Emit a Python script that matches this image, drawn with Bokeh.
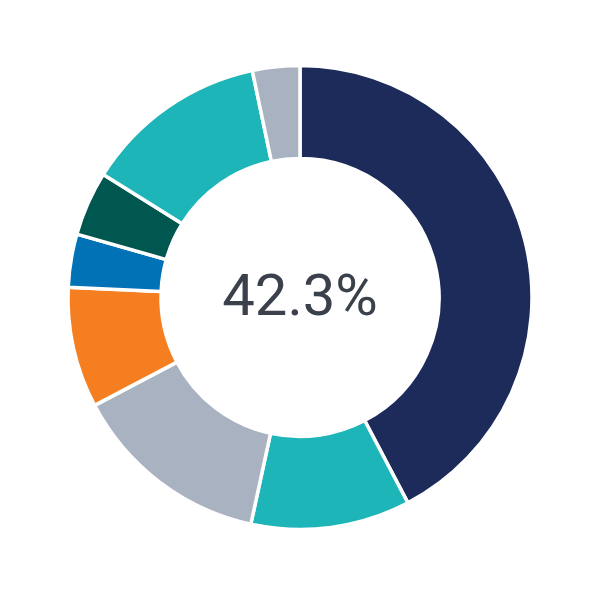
import math
from bokeh.plotting import figure
from bokeh.models import ColumnDataSource, Range1d
from bokeh.core.properties import value
from bokeh.embed import file_html
from bokeh.resources import INLINE

categories = ["A", "B", "C", "D", "E", "F", "G", "H"]
shares = [42.3, 11.1, 13.9, 8.4, 3.7, 4.5, 12.8, 3.3]
colors = ["#1c2b5a", "#1db5b8", "#a8b2c1", "#f47e20", "#0072b5", "#00574f", "#1db5b8", "#a8b2c1"]
center_label = "42.3%"

total = sum(shares)
starts, ends = [], []
cum = 0.0
for s in shares:
    a0 = math.pi / 2 - 2 * math.pi * cum / total
    cum += s
    a1 = math.pi / 2 - 2 * math.pi * cum / total
    starts.append(a0)
    ends.append(a1)

src = ColumnDataSource(dict(cat=categories, share=shares, color=colors, start=starts, end=ends))

W = 584
p = figure(width=W, height=W, output_backend="svg", toolbar_location=None,
           x_range=Range1d(-299.5, 284.5), y_range=Range1d(-287, 297), min_border=0)
p.axis.visible = False
p.grid.visible = False
p.outline_line_color = None
p.background_fill_color = "white"

p.annular_wedge(x=0, y=0, inner_radius=139, outer_radius=232,
                start_angle="start", end_angle="end", direction="clock",
                fill_color="color", line_color="white", line_width=3.5, source=src)

p.text(x=[0], y=[0], text=[center_label], text_align="center", text_baseline="middle",
       y_offset=-3,
       text_font=value("Roboto"), text_font_size="58px", text_color="#3a414b")

open("out.html", "w").write(file_html(p, INLINE))
